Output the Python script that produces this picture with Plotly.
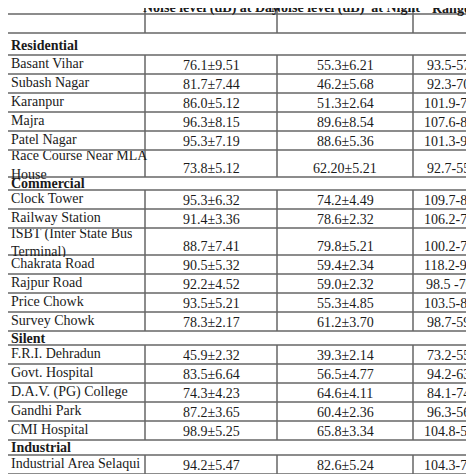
import plotly.graph_objects as go

headers = ["", "Noise level (dB) at Day", "Noise level (dB)  at Night", "Ranges"]
sections = ["Residential", "Commercial", "Silent", "Industrial"]
names = [
    ["Basant Vihar", "Subash Nagar", "Karanpur", "Majra", "Patel Nagar", "Race Course Near MLA<br>House"],
    ["Clock Tower", "Railway Station", "ISBT (Inter State Bus<br>Terminal)", "Chakrata Road", "Rajpur Road", "Price Chowk", "Survey Chowk"],
    ["F.R.I. Dehradun", "Govt. Hospital", "D.A.V. (PG) College", "Gandhi Park", "CMI Hospital"],
    ["Industrial Area Selaqui", "Industrial Area Patel Nagar"],
]
day = [
    ["76.1±9.51", "81.7±7.44", "86.0±5.12", "96.3±8.15", "95.3±7.19", "73.8±5.12"],
    ["95.3±6.32", "91.4±3.36", "88.7±7.41", "90.5±5.32", "92.2±4.52", "93.5±5.21", "78.3±2.17"],
    ["45.9±2.32", "83.5±6.64", "74.3±4.23", "87.2±3.65", "98.9±5.25"],
    ["94.2±5.47", "91.1±5.72"],
]
night = [
    ["55.3±6.21", "46.2±5.68", "51.3±2.64", "89.6±8.54", "88.6±5.36", "62.20±5.21"],
    ["74.2±4.49", "78.6±2.32", "79.8±5.21", "59.4±2.34", "59.0±2.32", "55.3±4.85", "61.2±3.70"],
    ["39.3±2.14", "56.5±4.77", "64.6±4.11", "60.4±2.36", "65.8±3.34"],
    ["82.6±5.24", "81.4±4.51"],
]
ranges = [
    ["93.5-57.9", "92.3-70.7", "101.9-74.9", "107.6-89.5", "101.3-94.2", "92.7-55.3"],
    ["109.7-88.6", "106.2-77.9", "100.2-76.3", "118.2-94.2", "98.5 -70.2", "103.5-88.1", "98.7-59.6"],
    ["73.2-55.6", "94.2-63.2", "84.1-74.1", "96.3-56.9", "104.8-59.7"],
    ["104.3-77.5", "97.5-74.1"],
]

# layout geometry (pixels)
col_x = [0, 137, 269, 405, 474]
col_c = [1, 203, 337, 446]
section_h = [22, 13, 14, 15]
font = dict(family="Liberation Serif", size=14, color="#1a1a1a")
bold = dict(family="Liberation Serif", size=14, color="#1a1a1a")
lc = "#666"

fig = go.Figure()
shapes, ann = [], []

def hline(y):
    shapes.append(dict(type="line", x0=0, x1=474, y0=y, y1=y, line=dict(color=lc, width=1.5)))

def vlines(y0, y1):
    for x in col_x[1:4]:
        shapes.append(dict(type="line", x0=x, x1=x, y0=y0, y1=y1, line=dict(color=lc, width=1.5)))

# header
vlines(-5, 6)
for i, h in enumerate(headers[1:], start=1):
    ann.append(dict(x=col_c[i], y=0, text="<b>%s</b>" % h, xanchor="center", yanchor="middle", font=bold))
hline(6)
vlines(6, 25)
hline(25)
y = 25
for s, sec in enumerate(sections):
    ann.append(dict(x=col_c[0], y=y + section_h[s] / 2 + (1 if s == 0 else 0), text="<b>%s</b>" % sec,
                    xanchor="left", yanchor="middle", font=bold))
    y += section_h[s]
    hline(y)
    for r, nm in enumerate(names[s]):
        h = 27 if "<br>" in nm else 19
        vlines(y, y + h)
        ann.append(dict(x=col_c[0], y=y - 1, text=nm, xanchor="left", yanchor="top", align="left",
                        font=font, **({"height": 28} if "<br>" in nm else {})))
        for c, arr in enumerate([day, night, ranges], start=1):
            ann.append(dict(x=col_c[c], y=y + h + 1, text=arr[s][r], xanchor="center", yanchor="bottom", font=font))
        y += h
        hline(y)

for a in ann:
    a.update(xref="x", yref="y", showarrow=False)
fig.update_layout(width=474, height=474, margin=dict(l=0, r=0, t=0, b=0),
                  paper_bgcolor="white", plot_bgcolor="white",
                  shapes=shapes, annotations=ann,
                  xaxis=dict(range=[0, 474], visible=False, fixedrange=True),
                  yaxis=dict(range=[474, 0], visible=False, fixedrange=True))
fig.write_html("out.html")
